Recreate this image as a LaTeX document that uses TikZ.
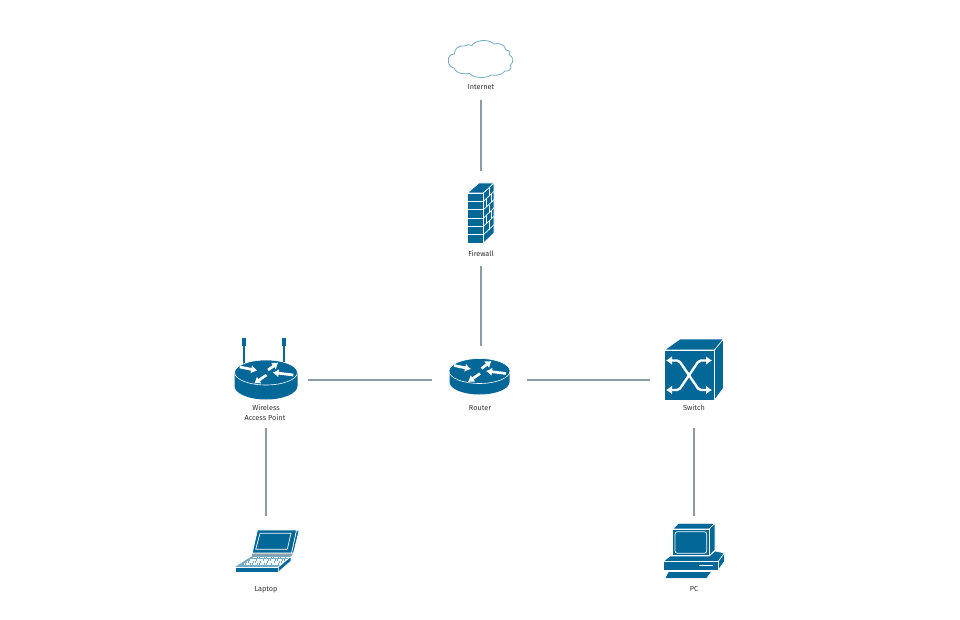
\documentclass[tikz,border=0pt]{standalone}
\usepackage{fontspec}
\setmainfont{Fira Sans}
\usetikzlibrary{arrows.meta}
\definecolor{ciscoblue}{HTML}{036897}
\definecolor{linkgrey}{HTML}{8A9CA8}
\definecolor{labelgrey}{HTML}{333333}
\tikzset{
  x=1pt,y=-1pt,
  devicebox/.style={inner sep=0pt,outer sep=0pt,minimum width=#1},
  link/.style={draw=linkgrey,line width=1.3pt},
  label text/.style={font=\fontsize{7.3}{10}\selectfont,text=labelgrey,align=center,inner sep=0pt,anchor=base},
  face/.style={fill=ciscoblue,draw=white,line width=0.6pt,line join=round},
  thinwhite/.style={draw=white,line width=0.7pt},
  flow/.style={draw=white,line width=2.7pt,-{Latex[length=6pt,width=8.5pt]}},
  crossflow/.style={draw=white,line width=2.4pt,{Latex[length=6pt,width=9pt]}-{Latex[length=6pt,width=9pt]},line join=round,rounded corners=2pt},
  routericon/.pic={
    \fill[ciscoblue] (-30,11) arc[start angle=180,end angle=360,x radius=30pt,y radius=12.5pt] -- (30,0) -- (-30,0) -- cycle;
    \path[face] (0,0) ellipse[x radius=30.5pt,y radius=12.5pt];
    \draw[flow] (-25.5,-5.5) -- (-8.5,-2);
    \draw[flow] (26.5,2.5) -- (6.5,0);
    \draw[flow] (2,-2.5) -- (12,-10);
    \draw[flow] (0.5,2.5) -- (-11.5,11);
  },
}
\begin{document}
\begin{tikzpicture}
\useasboundingbox (0,0) rectangle (960,620);
\fill[white] (0,0) rectangle (960,620);

% invisible device areas, connectors end on their borders
\node[devicebox=70,minimum height=70] (internet) at (481,65) {};
\node[devicebox=60,minimum height=95] (firewall) at (481,218.5) {};
\node[devicebox=95,minimum height=68] (router) at (479.5,380) {};
\node[devicebox=84,minimum height=96] (wap) at (266,380) {};
\node[devicebox=88,minimum height=96] (switch) at (694,380) {};
\node[devicebox=70,minimum height=84] (laptop) at (266,558) {};
\node[devicebox=70,minimum height=84] (pc) at (694,558) {};

% connectors
\draw[link] (internet.south) -- (firewall.north);
\draw[link] (firewall.south) -- (firewall.south |- router.north);
\draw[link] (wap.east) -- (router.west);
\draw[link] (router.east) -- (switch.west);
\draw[link] (wap.south) -- (laptop.north);
\draw[link] (switch.south) -- (pc.north);

% cloud
\draw[ciscoblue!55,line width=0.8pt,fill=white,line join=round]
  (448.5,60) .. controls (448,57) and (450,54.5) .. (454.5,54)
  .. controls (454,49) and (459,45) .. (464,46)
  .. controls (467,44.5) and (470,44.5) .. (472,45.5)
  .. controls (474,40.5) and (488,38) .. (494,44)
  .. controls (498,42.5) and (505,44) .. (506,50)
  .. controls (510,50.5) and (511,53) .. (509.5,55)
  .. controls (513.5,57) and (514,62) .. (510.5,65)
  .. controls (512,69) and (509,72) .. (505,71)
  .. controls (502,76) and (494,75.5) .. (491,75)
  .. controls (486,78.5) and (474,78.5) .. (469.5,73.5)
  .. controls (463,74.5) and (456,73.5) .. (454,68)
  .. controls (449.5,67.5) and (448,63) .. (448.5,60) -- cycle;
\node[label text] (internetlabel) at (481,90) {Internet};

% firewall
\path[face] (467.5,193) -- (483.5,193) -- (494,183) -- (479,183) -- cycle;
\path[face] (483.5,193) -- (494,183) -- (494,233) -- (483.5,243) -- cycle;
\path[face] (467.5,193) rectangle (483.5,243);
\foreach \k in {1,...,5} {
  \draw[thinwhite] (467.5,193+\k*8.33) -- (483.5,193+\k*8.33);
  \draw[thinwhite] (483.5,193+\k*8.33) -- (494,183+\k*8.33);
}
\foreach \k in {0,2,4} \draw[thinwhite] (489,188+\k*8.33) -- (489,196.3+\k*8.33);
\foreach \k in {1,3} \draw[thinwhite] (491.5,185.5+\k*8.33) -- (491.5,193.8+\k*8.33);
\foreach \k in {1,3} \draw[thinwhite] (486.5,190.5+\k*8.33) -- (486.5,198.8+\k*8.33);
\node[label text] (firewalllabel) at (481,256) {Firewall};

% router
\pic at (479.5,371) {routericon};
\node[label text] (routerlabel) at (480,410) {Router};

% wireless access point
\fill[ciscoblue] (242.8,345) rectangle (245.2,366);
\fill[ciscoblue] (282.8,345) rectangle (285.2,366);
\fill[ciscoblue] (242,338) rectangle (246,346);
\fill[ciscoblue] (282,338) rectangle (286,346);
\fill[ciscoblue] (234.5,386) arc[start angle=180,end angle=360,x radius=31.5pt,y radius=13.5pt] -- (297.5,373) -- (234.5,373) -- cycle;
\pic[xscale=1.03] at (266,372.5) {routericon};
\node[label text] (waplabel) at (266,410) {Wireless};
\node[label text] (waplabelb) at (265,420) {Access Point};

% switch
\path[face] (664.5,350) -- (714.5,350) -- (723.5,339) -- (680,339) -- cycle;
\path[face] (714.5,350) -- (723.5,339) -- (723.5,388) -- (714.5,400) -- cycle;
\path[face] (664.5,350) rectangle (714.5,400);
\draw[crossflow] (666,360.5) -- (679,360.5) -- (699,390) -- (712,390);
\draw[crossflow] (666,390) -- (679,390) -- (699,360.5) -- (712,360.5);
\node[label text] (switchlabel) at (694,410) {Switch};

% laptop
\path[face] (296.5,530) -- (299,530.7) -- (293.5,553) -- (291.5,553) -- cycle;
\path[face] (257.5,530) -- (296.5,530) -- (291.5,553) -- (252.3,553) -- cycle;
\draw[thinwhite] (260,533.3) -- (291,533.3) -- (287.3,549.3) -- (255.7,549.3) -- cycle;
\fill[ciscoblue!35!gray!70] (252.3,553.5) -- (293,553.5) -- (291,556.5) -- (252,556.5) -- cycle;
\path[fill=ciscoblue!55] (252.3,556) -- (291,556) -- (278.3,567) -- (235,567) -- cycle;
\foreach \r in {0,...,3} \foreach \c in {0,...,16} {
  \fill[white!95!ciscoblue] ({252.8-\r*3.1+\c*2.35},{556.8+\r*2.2}) rectangle ++(1.8,1.5);
}
\path[face] (235,567) -- (278.3,567) -- (278.3,572) -- (235,572) -- cycle;
\path[face] (278.3,567) -- (291,556.5) -- (291,561) -- (278.3,572) -- cycle;
\node[label text] (laptoplabel) at (266,591) {Laptop};

% pc
\path[face] (672.7,529) -- (678.3,523.3) -- (715,523.3) -- (709.3,529) -- cycle;
\path[face] (709.3,529) -- (715,523.3) -- (715,550) -- (709.3,555.7) -- cycle;
\path[face] (672.7,529) rectangle (709.3,555.7);
\draw[thinwhite,rounded corners=2.5pt] (675,531.7) rectangle (706.7,553.3);
\path[face] (663.3,561.5) -- (670,556) -- (709.3,556) -- (715,551) -- (724.3,553) -- (718.3,561.5) -- cycle;
\path[face] (718.3,561.5) -- (724.3,553) -- (724.3,561.7) -- (718.3,570) -- cycle;
\path[face] (663.3,561.5) rectangle (718.3,570);
\draw[draw=white,line width=1pt] (699.3,565.7) -- (713.3,565.7);
\path[face] (668.3,571.5) -- (711.7,571.5) -- (706.7,578.3) -- (665,578.3) -- cycle;
\node[label text] (pclabel) at (694,591) {PC};
\end{tikzpicture}
\end{document}
